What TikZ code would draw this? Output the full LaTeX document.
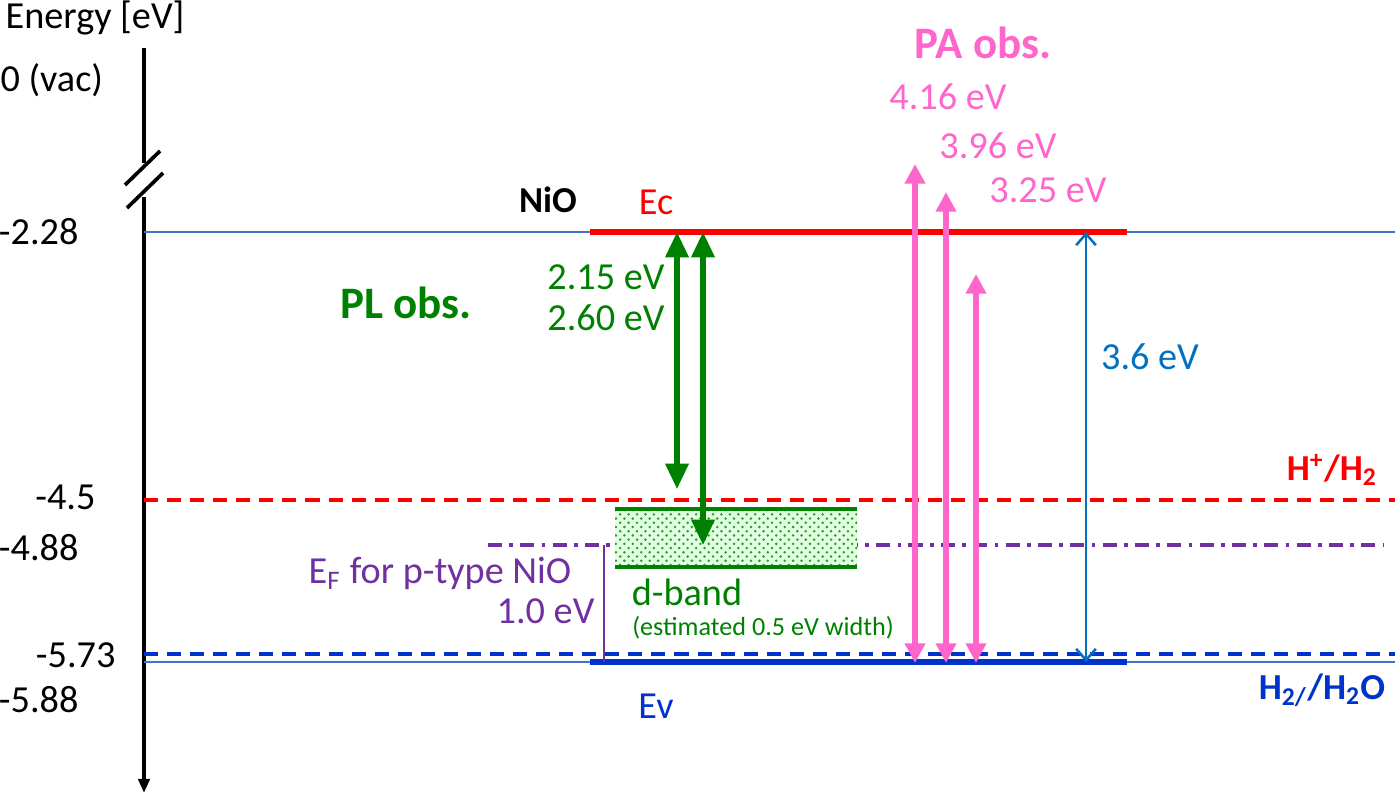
\documentclass[tikz,border=0pt]{standalone}
\usepackage{fontspec}
\setmainfont{Carlito}
\usetikzlibrary{arrows.meta,patterns,positioning}
\definecolor{plgreen}{RGB}{0,128,0}
\definecolor{papink}{RGB}{255,102,204}
\definecolor{efpurple}{RGB}{112,48,160}
\definecolor{evblue}{RGB}{0,51,204}
\definecolor{gapblue}{RGB}{0,112,192}
\definecolor{thinblue}{RGB}{68,114,196}
\tikzset{
  lbl/.style={font=\fontsize{13.6}{16}\selectfont,inner sep=0pt},
  boldlbl/.style={lbl,font=\fontsize{13}{16}\selectfont\bfseries},
  obslbl/.style={lbl,font=\fontsize{16}{19}\selectfont\bfseries},
  pl arrow/.style={{Triangle[length=9pt,width=8pt]}-{Triangle[length=9pt,width=8pt]},line width=1.8pt,plgreen},
  pa arrow/.style={{Triangle[length=7pt,width=7pt]}-{Triangle[length=7pt,width=7pt]},line width=2.1pt,papink},
}

\begin{document}
\begin{tikzpicture}[x=0.0125cm,y=-0.0125cm]
    \useasboundingbox (0,0) rectangle (1400,797);

    % energy axis with break
    \draw[line width=1.4pt] (144,48) -- (144,163);
    \draw[line width=1.4pt,-{Triangle[length=5pt,width=4pt]}] (144,197) -- (144,793);
    \draw[line width=1.3pt] (125,185) -- (160,151);
    \draw[line width=1.3pt] (127,208) -- (163,173);
    \node[lbl] (ylabel) at (95,18) {Energy [eV]};
    \node[lbl,anchor=west] (vac) at (0,80) {0 (vac)};
    \node[lbl,anchor=east] (t228) at (79,232) {-2.28};
    \node[lbl,anchor=east] (t45) at (96,497) {-4.5};
    \node[lbl,anchor=east] (t488) at (79,548) {-4.88};
    \node[lbl,anchor=east] (t573) at (116,655) {-5.73};
    \node[lbl,anchor=east] (t588) at (79,700) {-5.88};

    % levels
    \draw[thinblue,line width=0.4pt] (144,232) -- (1395,232);
    \draw[thinblue,line width=0.4pt] (144,662) -- (1395,662);
    \draw[red,line width=1.3pt,dash pattern=on 5pt off 3.2pt] (144,500) -- (1395,500);
    \draw[evblue,line width=1.3pt,dash pattern=on 5pt off 3.2pt] (144,654) -- (1395,654);
    \draw[efpurple,line width=1.3pt,dash pattern=on 5pt off 2.6pt on 1.3pt off 2.6pt] (488,545) -- (1383,545);
    \draw[red,line width=2pt] (590,232) -- (1127,232);
    \draw[evblue,line width=2pt] (590,662) -- (1127,662);

    % d-band
    \fill[green!12] (615,509) rectangle (857,567);
    \fill[pattern=crosshatch dots,pattern color=plgreen!80] (615,509) rectangle (857,567);
    \draw[plgreen,line width=1.2pt] (615,509) -- (857,509);
    \draw[plgreen,line width=1.2pt] (615,567) -- (857,567);
    \draw[efpurple,line width=0.5pt] (604,545) -- (604,662);

    % PL arrows
    \coordinate (pla) at (677,232);
    \coordinate (plb) at (677,489);
    \coordinate (plc) at (703,232);
    \coordinate (pld) at (703,545);
    \draw[pl arrow] (pla) -- (plb);
    \draw[pl arrow] (plc) -- (pld);

    % PA arrows
    \coordinate (paa) at (915,164);
    \coordinate (pab) at (915,663);
    \coordinate (pac) at (946,192);
    \coordinate (pad) at (946,663);
    \coordinate (pae) at (976,274);
    \coordinate (paf) at (976,663);
    \draw[pa arrow] (paa) -- (pab);
    \draw[pa arrow] (pac) -- (pad);
    \draw[pa arrow] (pae) -- (paf);

    % band gap
    \coordinate (gapa) at (1086,232);
    \coordinate (gapb) at (1086,662);
    \draw[gapblue,line width=0.9pt,{Straight Barb[length=4pt,width=7pt]}-{Straight Barb[length=4pt,width=7pt]}] (gapa) -- (gapb);

    % labels
    \node[boldlbl] (nio) at (548,200) {NiO};
    \node[lbl,red] (ec) at (656,202) {Ec};
    \node[lbl,evblue] (ev) at (656,706) {Ev};
    \node[obslbl,plgreen] (plobs) at (406,303) {PL obs.};
    \node[lbl,plgreen] (pl215) at (606,277) {2.15 eV};
    \node[lbl,plgreen,below=14.5pt of pl215.center,anchor=center] (pl260) {2.60 eV};
    \node[lbl,gapblue] (gap) at (1150,357) {3.6 eV};
    \node[obslbl,papink] (paobs) at (983,43) {PA obs.};
    \node[lbl,papink] (pa416) at (948,97) {4.16 eV};
    \node[lbl,papink] (pa396) at (998,146) {3.96 eV};
    \node[lbl,papink] (pa325) at (1048,190) {3.25 eV};
    \node[boldlbl,red] (hh2) at (1332,470) {H\textsuperscript{+}/H\textsubscript{2}};
    \node[boldlbl,evblue] (h2o) at (1322,690) {H\textsubscript{2/}/H\textsubscript{2}O};
    \node[lbl,efpurple] (ef) at (440,573) {E\textsubscript{F} for p-type NiO};
    \node[lbl,efpurple,anchor=east] (ef10) at (595,611) {1.0 eV};
    \node[lbl,plgreen] (dband) at (687,592) {d-band};
    \node[lbl,plgreen,font=\fontsize{9.3}{11}\selectfont] (dwidth) at (763,628) {(estimated 0.5 eV width)};
\end{tikzpicture}
\end{document}
